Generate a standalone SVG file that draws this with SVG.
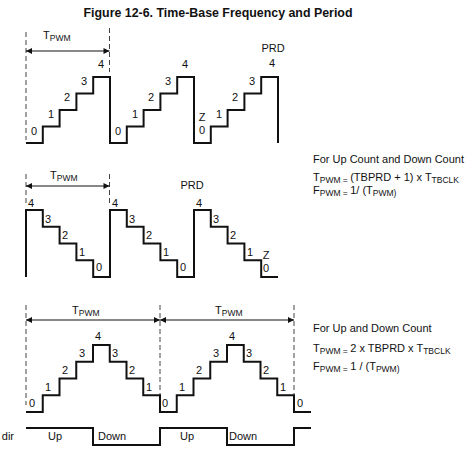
<svg xmlns="http://www.w3.org/2000/svg" width="474" height="457" viewBox="0 0 474 457">
<defs>
<marker id="ah" viewBox="0 0 10 10" refX="10" refY="5" markerWidth="8" markerHeight="6" markerUnits="userSpaceOnUse" orient="auto-start-reverse">
<path d="M0,0 L10,5 L0,10 z" fill="#111"/>
</marker>
<style>
text{font-family:"Liberation Sans",Arial,sans-serif;fill:#111}
.t{font-size:11px}
.c{text-anchor:middle}
.s{font-size:8.5px}
.w{fill:none;stroke:#111;stroke-width:2;stroke-linejoin:miter}
.d{fill:none;stroke:#444;stroke-width:1;stroke-dasharray:5 3}
.a{fill:none;stroke:#111;stroke-width:1.2;marker-start:url(#ah);marker-end:url(#ah)}
.ti{font-size:12.4px;font-weight:bold;text-anchor:middle}
</style>
</defs>
<text class="ti" x="218" y="17">Figure 12-6. Time-Base Frequency and Period</text>

<g id="connectors">
<line class="d" x1="26" y1="32" x2="26" y2="140"/>
<line class="d" x1="109.5" y1="28" x2="109.5" y2="72"/>
<line class="a" x1="26" y1="51" x2="109.5" y2="51"/>
<line class="d" x1="26" y1="174" x2="26" y2="204"/>
<line class="d" x1="109.5" y1="174" x2="109.5" y2="204"/>
<line class="a" x1="26" y1="186" x2="109.5" y2="186"/>
<line class="d" x1="26" y1="305" x2="26" y2="405"/>
<line class="d" x1="160" y1="305" x2="160" y2="405"/>
<line class="d" x1="294" y1="305" x2="294" y2="405"/>
<line class="a" x1="26" y1="320" x2="160" y2="320"/>
<line class="a" x1="160" y1="320" x2="294" y2="320"/>
</g>

<g id="upcount">
<path class="w" d="M26 143 H42.8 V126.5 H59.6 V110 H76.4 V93.5 H93.2 V77 H110 V143 H126.8 V126.5 H143.6 V110 H160.4 V93.5 H177.2 V77 H194 V143 H210.8 V126.5 H227.6 V110 H244.4 V93.5 H261.2 V77 H278 V143"/>
<text class="t" x="43" y="39">T<tspan class="s" dy="2">PWM</tspan></text>
<text class="t c" x="34" y="135">0</text><text class="t c" x="51" y="118">1</text><text class="t c" x="67" y="101">2</text><text class="t c" x="84" y="85">3</text><text class="t c" x="101" y="68">4</text>
<text class="t c" x="118" y="135">0</text><text class="t c" x="135" y="118">1</text><text class="t c" x="151" y="101">2</text><text class="t c" x="168" y="85">3</text><text class="t c" x="185" y="68">4</text>
<text class="t c" x="202" y="121">Z</text><text class="t c" x="202" y="134">0</text><text class="t c" x="219" y="118">1</text><text class="t c" x="235" y="101">2</text><text class="t c" x="252" y="85">3</text><text class="t c" x="272" y="67">4</text>
<text class="t c" x="273" y="52">PRD</text>
</g>

<g id="downcount">
<path class="w" d="M26 277 V210 H42.8 V226.75 H59.6 V243.5 H76.4 V260.25 H93.2 V277 H110 V210 H126.8 V226.75 H143.6 V243.5 H160.4 V260.25 H177.2 V277 H194 V210 H210.8 V226.75 H227.6 V243.5 H244.4 V260.25 H261.2 V277 H278"/>
<text class="t" x="50" y="179">T<tspan class="s" dy="2">PWM</tspan></text>
<text class="t" x="28" y="206.5">4</text><text class="t" x="45" y="222.5">3</text><text class="t" x="62" y="239">2</text><text class="t" x="79" y="256">1</text><text class="t" x="96" y="271">0</text>
<text class="t" x="112" y="206.5">4</text><text class="t" x="129" y="222.5">3</text><text class="t" x="146" y="239">2</text><text class="t" x="163" y="256">1</text><text class="t" x="180" y="271">0</text>
<text class="t" x="196" y="206.5">4</text><text class="t" x="213" y="222.5">3</text><text class="t" x="230" y="239">2</text><text class="t" x="247" y="256">1</text><text class="t c" x="266" y="259">Z</text><text class="t c" x="266" y="272">0</text>
<text class="t c" x="192" y="189">PRD</text>
</g>

<g id="updown">
<path class="w" d="M26 412 H42.75 V395.25 H59.5 V378.5 H76.25 V361.75 H93 V345 H109.75 V361.75 H126.5 V378.5 H143.25 V395.25 H160 V412 H176.75 V395.25 H193.5 V378.5 H210.25 V361.75 H227 V345 H243.75 V361.75 H260.5 V378.5 H277.25 V395.25 H294 V412 H311"/>
<text class="t" x="72" y="314">T<tspan class="s" dy="2">PWM</tspan></text>
<text class="t" x="215" y="314">T<tspan class="s" dy="2">PWM</tspan></text>
<text class="t c" x="32" y="407">0</text><text class="t c" x="48" y="391">1</text><text class="t c" x="65" y="374">2</text><text class="t c" x="82" y="357">3</text><text class="t c" x="98" y="340">4</text><text class="t c" x="115" y="357">3</text><text class="t c" x="132" y="374">2</text><text class="t c" x="149" y="391">1</text><text class="t c" x="165" y="407">0</text>
<text class="t c" x="182" y="391">1</text><text class="t c" x="199" y="374">2</text><text class="t c" x="216" y="357">3</text><text class="t c" x="232" y="340">4</text><text class="t c" x="249" y="357">3</text><text class="t c" x="266" y="374">2</text><text class="t c" x="283" y="391">1</text><text class="t c" x="300" y="407">0</text>
</g>

<g id="dir">
<path class="w" d="M26 428 H93 V445 H160 V428 H227 V445 H294 V428 H311"/>
<text class="t" x="14" y="440" text-anchor="end">dir</text>
<text class="t c" x="55" y="440">Up</text><text class="t c" x="112" y="440">Down</text>
<text class="t c" x="187" y="440">Up</text><text class="t c" x="243" y="440">Down</text>
</g>

<g id="formula1">
<text class="t" x="313" y="163">For Up Count and Down Count</text>
<text class="t" x="313" y="181">T<tspan class="s" dy="2">PWM = </tspan><tspan dy="-2">(TBPRD + 1) x T</tspan><tspan class="s" dy="2">TBCLK</tspan></text>
<text class="t" x="313" y="194">F<tspan class="s" dy="2">PWM = </tspan><tspan dy="-2">1/ (T</tspan><tspan class="s" dy="2">PWM)</tspan></text>
</g>

<g id="formula2">
<text class="t" x="313" y="332">For Up and Down Count</text>
<text class="t" x="313" y="352">T<tspan class="s" dy="2">PWM = </tspan><tspan dy="-2">2 x TBPRD x T</tspan><tspan class="s" dy="2">TBCLK</tspan></text>
<text class="t" x="313" y="370">F<tspan class="s" dy="2">PWM = </tspan><tspan dy="-2">1 / (T</tspan><tspan class="s" dy="2">PWM)</tspan></text>
</g>
</svg>
